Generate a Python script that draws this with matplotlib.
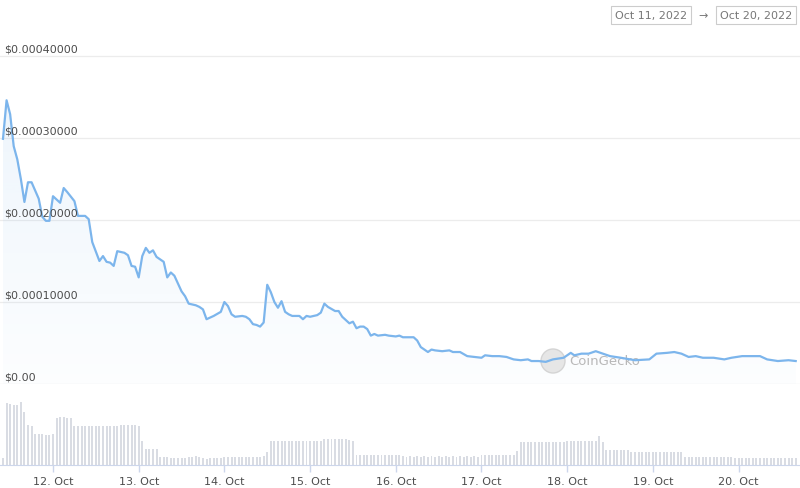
import matplotlib
matplotlib.use("Agg")
import matplotlib.pyplot as plt
import matplotlib.dates as mdates
from matplotlib.patches import Ellipse
from matplotlib.colors import to_rgb
import numpy as np
import pandas as pd

# hourly data starting 11 Oct 2022 10:00
START = pd.Timestamp("2022-10-11 10:00")

price_hours = [
    0, 1, 2, 3, 4, 5, 6, 7, 8, 10, 11, 12, 13, 14, 16, 17, 18, 20, 21, 23,
    24, 25, 27, 28, 29, 30, 31, 32, 34, 35, 36, 37, 38, 39, 40, 41, 42, 43, 45, 46,
    47, 48, 50, 51, 52, 54, 55, 56, 57, 59, 61, 62, 63, 64, 65, 67, 68, 69, 70, 71,
    72, 73, 74, 75, 76, 77, 78, 79, 80, 81, 83, 84, 85, 86, 88, 89, 90, 91, 93, 94,
    95, 97, 98, 99, 100, 101, 102, 103, 104, 105, 107, 108, 110, 111, 112, 114, 115, 116, 117, 118,
    119, 120, 121, 123, 125, 126, 128, 130, 132, 134, 135, 137, 139, 141, 143, 145, 147, 148, 150, 152,
    154, 157, 159, 160, 162, 164, 166, 168, 170, 173, 177, 181, 183, 186, 188, 190, 192, 194, 196, 199,
    202, 204, 207, 209, 212, 214, 217, 220, 222,
]
# price in units of 1e-4 USD
price_e4 = [
    2.99, 3.46, 3.29, 2.90, 2.74, 2.50, 2.22, 2.46, 2.46, 2.26, 2.04, 1.99, 1.99, 2.29, 2.21, 2.39, 2.34, 2.23, 2.05, 2.05,
    2.01, 1.73, 1.50, 1.56, 1.49, 1.48, 1.44, 1.62, 1.60, 1.57, 1.44, 1.43, 1.30, 1.56, 1.66, 1.60, 1.63, 1.55, 1.49, 1.30,
    1.36, 1.32, 1.13, 1.07, 0.98, 0.96, 0.94, 0.91, 0.79, 0.83, 0.88, 1.00, 0.95, 0.85, 0.82, 0.83, 0.82, 0.79, 0.73, 0.72,
    0.70, 0.75, 1.21, 1.12, 1.00, 0.93, 1.01, 0.88, 0.85, 0.83, 0.83, 0.79, 0.83, 0.82, 0.84, 0.87, 0.98, 0.94, 0.89, 0.89,
    0.82, 0.74, 0.76, 0.68, 0.70, 0.70, 0.67, 0.59, 0.61, 0.59, 0.60, 0.59, 0.58, 0.59, 0.57, 0.57, 0.57, 0.53, 0.45, 0.42,
    0.39, 0.42, 0.41, 0.40, 0.41, 0.39, 0.39, 0.34, 0.33, 0.32, 0.35, 0.34, 0.34, 0.33, 0.30, 0.29, 0.30, 0.28, 0.28, 0.27,
    0.30, 0.32, 0.38, 0.35, 0.37, 0.37, 0.40, 0.37, 0.34, 0.32, 0.29, 0.30, 0.37, 0.38, 0.39, 0.37, 0.33, 0.34, 0.32, 0.32,
    0.30, 0.32, 0.34, 0.34, 0.34, 0.30, 0.28, 0.29, 0.28,
]

# hourly volume (relative units)
volume = [
    7, 62, 61, 60, 60, 63, 53, 40, 39, 31, 31, 31, 30, 30,
    31, 47, 48, 48, 47, 47, 39, 39, 39, 39, 39, 39, 39, 39, 39, 39, 39, 39, 39, 40, 40, 40, 40, 40,
    39, 24, 16, 16, 16, 16, 8, 8, 8, 7, 7, 7, 7, 7, 8, 8, 9, 8, 7, 6, 7, 7, 7, 7,
    8, 8, 8, 8, 8, 8, 8, 8, 8, 8, 8, 9, 13, 24, 24, 24, 24, 24, 24, 24, 24, 24, 24, 24,
    24, 24, 24, 24, 26, 26, 26, 26, 26, 26, 26, 25, 24, 10, 10, 10, 10, 10, 10, 10, 10, 10, 10, 10,
    10, 10, 9, 8, 9, 8, 9, 8, 9, 8, 9, 8, 9, 8, 9, 8, 9, 8, 9, 8, 9, 8, 9, 8,
    10, 10, 10, 10, 10, 10, 10, 10, 10, 10, 14, 23, 23, 23, 23, 23, 23, 23, 23, 23, 23, 23, 23, 23,
    24, 24, 24, 24, 24, 24, 24, 24, 24, 29, 23, 15, 15, 15, 15, 15, 15, 15, 13, 13, 13, 13, 13, 13,
    13, 13, 13, 13, 13, 13, 13, 13, 13, 8, 8, 8, 8, 8, 8, 8, 8, 8, 8, 8, 8, 8, 8, 7,
    7, 7, 7, 7, 7, 7, 7, 7, 7, 7, 7, 7, 7, 7, 7, 7, 7,
]

y_ticks_e4 = [0, 1, 2, 3, 4]
y_labels = ["$0.00", "$0.00010000", "$0.00020000", "$0.00030000", "$0.00040000"]
day_ticks = pd.date_range("2022-10-12", "2022-10-20", freq="D")
range_labels = ["Oct 11, 2022", "Oct 20, 2022"]

LINE = "#7cb5ec"
GRID = "#ececec"
AXIS = "#ccd6eb"
TXT = "#4d4d4d"

W, H = 800, 489
fig = plt.figure(figsize=(W / 100, H / 100), dpi=100)
fig.patch.set_facecolor("white")

t_price = START + pd.to_timedelta(price_hours, unit="h")
p = [v * 1e-4 for v in price_e4]
t_vol = START + pd.to_timedelta(list(range(len(volume))), unit="h")

x0 = START - pd.Timedelta(hours=0.84)
x1 = START + pd.Timedelta(hours=223.2)

# price panel
ax = fig.add_axes([0, 1 - 385 / H, 1, (385 - 40) / H])
ax.set_xlim(x0, x1)
ymax = (385 - 40) / 82 * 1e-4
ax.set_ylim(0, ymax)
for v, lab in zip(y_ticks_e4, y_labels):
    ax.axhline(v * 1e-4, color=GRID, lw=0.9, zorder=0)
    ax.annotate(lab, xy=(0, v * 1e-4), xycoords=ax.get_yaxis_transform(),
                xytext=(4, 2), textcoords="offset pixels", ha="left", va="bottom",
                fontsize=8, color=TXT, zorder=3)

# gradient area under the line
fill = ax.fill_between(t_price, p, 0, color="none", lw=0)
grad = np.zeros((256, 1, 4))
grad[:, 0, :3] = to_rgb(LINE)
grad[:, 0, 3] = np.linspace(0.13, 0.02, 256)
xa, xb = mdates.date2num(x0), mdates.date2num(x1)
img = ax.imshow(grad, aspect="auto", extent=[xa, xb, 0, max(p)], origin="upper", zorder=1)
img.set_clip_path(fill.get_paths()[0], transform=ax.transData)
ax.plot(t_price, p, color=LINE, lw=1.6, zorder=2, solid_joinstyle="round")
ax.set_xlim(x0, x1)
ax.set_ylim(0, ymax)
ax.axis("off")

# watermark
wm_x, wm_y = 553 / W, 1 - 362 / H
ax.add_artist(Ellipse((wm_x, wm_y), 24 / W, 24 / H, transform=fig.transFigure,
                      facecolor="#e6e6e6", edgecolor="#d4d4d4", lw=1, zorder=1))
ax.text(569 / W, wm_y, "CoinGecko", transform=fig.transFigure, ha="left", va="center",
        fontsize=9.5, color="#b8b8b8", zorder=1)

# volume panel
axv = fig.add_axes([0, 1 - 466 / H, 1, 66 / H])
axv.bar(t_vol, volume, width=0.55 / 24, color="#d9dce3", align="center")
axv.set_xlim(x0, x1)
axv.set_ylim(0, 66)
axv.set_yticks([])
for s in ["top", "left", "right"]:
    axv.spines[s].set_visible(False)
axv.spines["bottom"].set_color(AXIS)
axv.set_xticks(day_ticks)
axv.xaxis.set_major_formatter(mdates.DateFormatter("%d. %b"))
axv.tick_params(axis="x", colors=AXIS, length=5, width=1, pad=3, labelsize=8, labelcolor=TXT)
axv.patch.set_alpha(0)

# date range boxes
box = dict(boxstyle="square,pad=0.35", facecolor="white", edgecolor="#cccccc", lw=0.8)
fig.text(651 / W, 1 - 16 / H, range_labels[0], ha="center", va="center",
         fontsize=8, color="#777777", bbox=box)
fig.text(703 / W, 1 - 16 / H, "\u2192", ha="center", va="center", fontsize=8, color="#777777")
fig.text(756 / W, 1 - 16 / H, range_labels[1], ha="center", va="center",
         fontsize=8, color="#777777", bbox=box)

fig.savefig("out.png", dpi=100, facecolor="white")
